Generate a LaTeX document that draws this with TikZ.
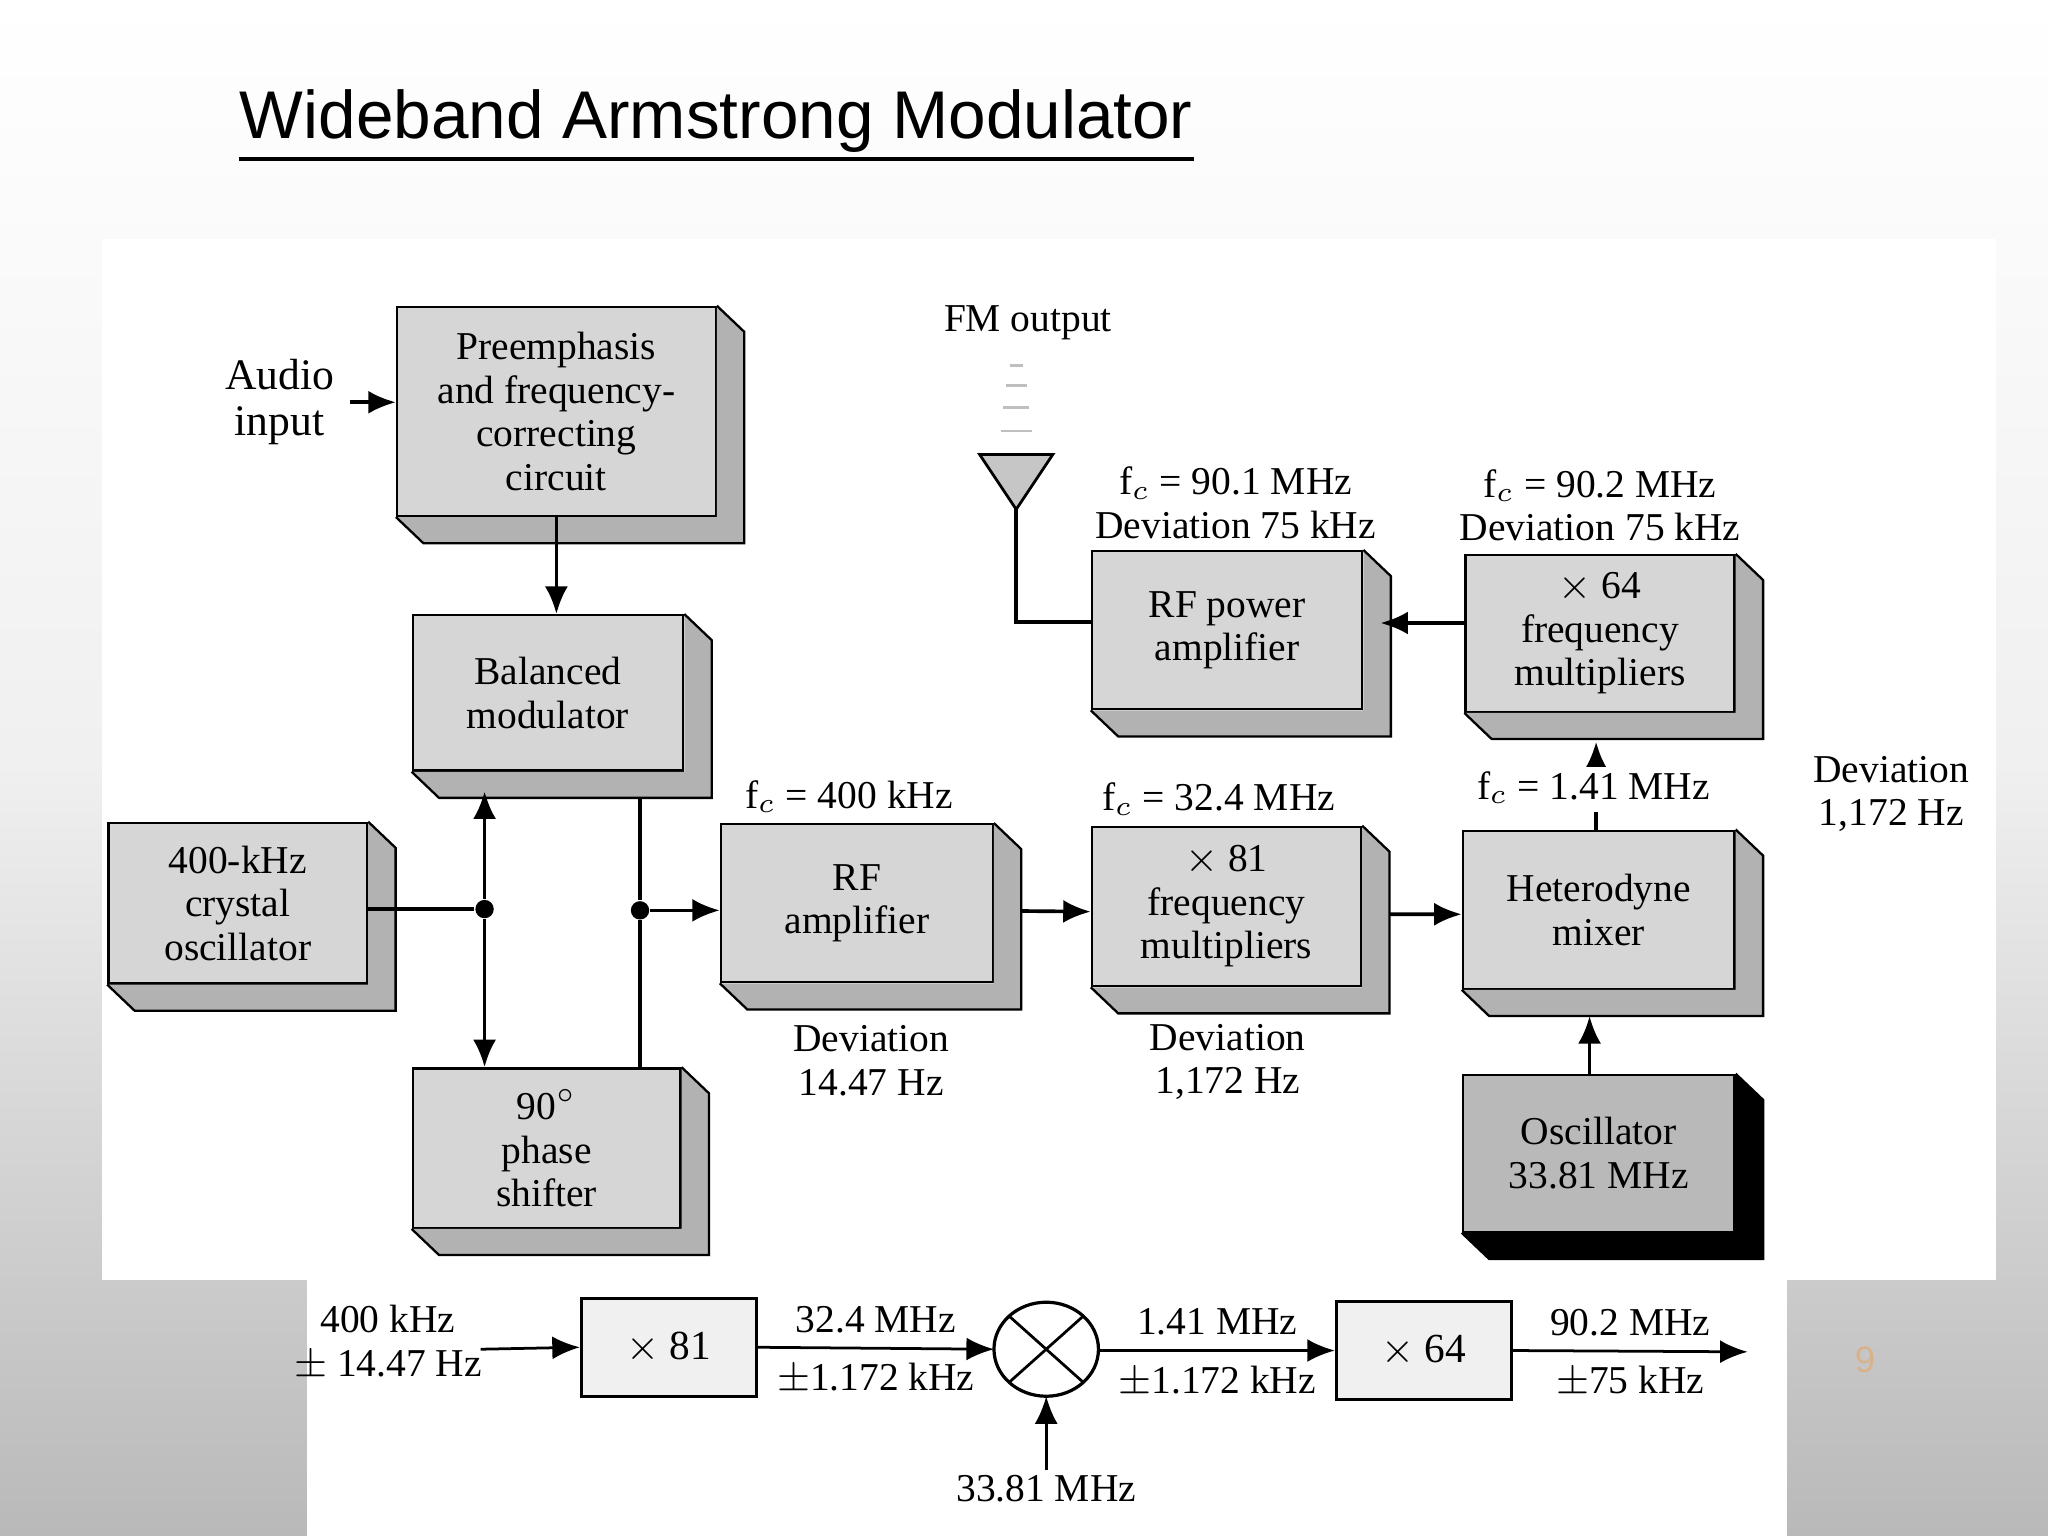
\documentclass[tikz,border=0pt]{standalone}
\usepackage{fontspec}
\setmainfont{Liberation Serif}
\newfontfamily\titlefont{Liberation Sans}
\usetikzlibrary{arrows.meta,calc}

\begin{document}
\begin{tikzpicture}[
  % --- node styles ---
  blk/.style={draw=black, fill=gray!32, line width=0.5pt, inner sep=0pt,
              minimum width=#1, align=center,
              font=\fontsize{8.6}{9.5}\selectfont},
  lbl/.style={align=center, font=\fontsize{8.6}{9.5}\selectfont, inner sep=1pt},
  sig/.style={-{Latex[length=6pt,width=5pt]}, line width=0.8pt},
  wire/.style={line width=0.8pt},
  dot/.style={circle, fill=black, minimum size=4pt, inner sep=0pt},
  cbox/.style={draw=black, fill=gray!12, line width=0.6pt,
               minimum width=1.34cm, minimum height=0.75cm,
               font=\fontsize{9}{9}\selectfont},
]
  % --- block with a 3D shadow ---
  \newcommand\shadowblk[2]{%
    \fill[#2] (#1.north east) -- ($(#1.north east)+(0.21,-0.2)$)
      -- ($(#1.south east)+(0.21,-0.2)$) -- ($(#1.south west)+(0.21,-0.2)$)
      -- (#1.south west) -- (#1.south east) -- cycle;
    \draw[line width=0.5pt] (#1.north east) -- ($(#1.north east)+(0.21,-0.2)$)
      -- ($(#1.south east)+(0.21,-0.2)$) -- ($(#1.south west)+(0.21,-0.2)$)
      -- (#1.south west);}

  % --- slide background ---
  \useasboundingbox (0,0) rectangle (15.68,-11.76);
  \shade[top color=white, bottom color=gray!55, middle color=gray!12]
    (0,0) rectangle (15.68,-11.76);
  \fill[white] (0.78,-1.83) rectangle (15.28,-9.80);
  \fill[white] (2.35,-9.80) rectangle (13.68,-11.76);

  % --- title ---
  \node[font=\titlefont\fontsize{14.7}{16}\selectfont, anchor=west, inner sep=0pt]
    (title) at (1.83,-0.93) {Wideband Armstrong Modulator};
  \draw[line width=0.8pt] ($(title.south west)+(0,-0.04)$) -- ($(title.south east)+(0,-0.04)$);

  % --- blocks ---
  \node[blk=2.44cm, minimum height=1.60cm] (pre) at (4.26,-3.15)
    {Preemphasis\\and frequency-\\correcting\\circuit};
  \node[blk=2.07cm, minimum height=1.19cm] (bal) at (4.195,-5.305)
    {Balanced\\modulator};
  \node[blk=1.98cm, minimum height=1.23cm] (xtal) at (1.82,-6.915)
    {400-kHz\\crystal\\oscillator};
  \node[blk=2.05cm, minimum height=1.22cm] (phs) at (4.185,-8.79)
    {90$^\circ$\\phase\\shifter};
  \node[blk=2.08cm, minimum height=1.21cm] (rfa) at (6.56,-6.915)
    {RF\\amplifier};
  \node[blk=2.06cm, minimum height=1.22cm] (m81) at (9.39,-6.94)
    {$\times$ 81\\frequency\\multipliers};
  \node[blk=2.08cm, minimum height=1.21cm] (mix) at (12.24,-6.965)
    {Heterodyne\\mixer};
  \node[blk=2.08cm, minimum height=1.20cm, fill=gray!55] (osc) at (12.24,-8.83)
    {Oscillator\\33.81 MHz};
  \node[blk=2.06cm, minimum height=1.20cm] (m64) at (12.25,-4.85)
    {$\times$ 64\\frequency\\multipliers};
  \node[blk=2.07cm, minimum height=1.21cm] (rfp) at (9.395,-4.825)
    {RF power\\amplifier};

  \shadowblk{pre}{gray!60}
  \shadowblk{bal}{gray!60}
  \shadowblk{xtal}{gray!60}
  \shadowblk{phs}{gray!60}
  \shadowblk{rfa}{gray!60}
  \shadowblk{m81}{gray!60}
  \shadowblk{mix}{gray!60}
  \shadowblk{osc}{black}
  \shadowblk{m64}{gray!60}
  \shadowblk{rfp}{gray!60}

  % --- junctions ---
  \node[dot] (j1) at (3.71,-6.96) {};
  \node[dot] (j2) at (4.90,-6.97) {};
  \coordinate (ant) at (7.78,-3.90);
  \coordinate (bend) at (7.78,-4.76);
  \coordinate (gapb) at (12.22,-6.22);
  \coordinate (gapt) at (12.22,-5.86);

  % --- connectors ---
  \node[lbl, font=\fontsize{9.5}{10}\selectfont] (audio) at (2.14,-3.08) {Audio\\input};
  \draw[sig] ($(audio.east)+(0.08,0)$) -- (audio.east -| pre.west);
  \draw[sig] (pre.south) -- (pre.south |- bal.north);
  \draw[wire] (xtal.east |- j1) -- (j1);
  \draw[sig] (j1) -- ($(bal.south -| j1)+(0,-0.15)$);
  \draw[sig] (j1) -- (phs.north -| j1);
  \draw[wire] ($(bal.south -| j2)+(0,-0.2)$) -- (j2);
  \draw[wire] (phs.north -| j2) -- (j2);
  \draw[sig] (j2) -- (rfa.west |- j2);
  \draw[sig] ($(rfa.east)+(0.21,-0.06)$) -- (m81.west |- 0,-6.98);
  \draw[sig] ($(m81.east)+(0.21,-0.06)$) -- (mix.west |- 0,-7.0);
  \draw[sig] (osc.north -| 12.17,0) -- ($(mix.south -| 12.17,0)+(0,-0.2)$);
  \draw[wire] (mix.north -| gapb) -- (gapb);
  \draw[sig] (gapt) -- ($(m64.south -| gapt)+(0,-0.22)$);
  \draw[sig] (m64.west |- 0,-4.77) -- ($(rfp.east |- 0,-4.77)+(0.13,0)$);
  \draw[wire] (rfp.west |- bend) -- (bend) -- (ant);

  % --- antenna ---
  \draw[fill=gray!45, line width=0.6pt] (ant) -- (7.50,-3.48) -- (8.06,-3.48) -- cycle;
  \foreach \yy/\ww in {3.30/0.12, 3.12/0.10, 2.95/0.08, 2.80/0.05}
    \draw[gray!50, line width=0.6pt] (7.78-\ww,-\yy) -- (7.78+\ww,-\yy);
  \node[lbl] (fmout) at (7.87,-2.47) {FM output};

  % --- frequency labels ---
  \node[lbl] (lrfp) at (9.46,-3.85) {f$_c$ = 90.1 MHz\\Deviation 75 kHz};
  \node[lbl] (lm64) at (12.25,-3.87) {f$_c$ = 90.2 MHz\\Deviation 75 kHz};
  \node[lbl] (lrfa) at (6.50,-6.10) {f$_c$ = 400 kHz};
  \node[lbl] (lm81) at (9.33,-6.12) {f$_c$ = 32.4 MHz};
  \node[lbl, fill=white] (lmix) at (12.20,-6.03) {f$_c$ = 1.41 MHz};
  \node[lbl] (dvmix) at (14.48,-6.08) {Deviation\\1,172 Hz};
  \node[lbl] (dvrfa) at (6.67,-8.12) {Deviation\\14.47 Hz};
  \node[lbl] (dvm81) at (9.40,-8.13) {Deviation\\1,172 Hz};

  % --- summary chain ---
  \node[lbl] (fin) at (2.97,-10.28) {400 kHz\\$\pm$ 14.47 Hz};
  \coordinate (cin) at (3.68,-10.33);
  \node[cbox] (c81) at (5.12,-10.315) {$\times$ 81};
  \draw[line width=0.7pt] (8.01,-10.33) ellipse (0.40 and 0.36);
  \coordinate (cmx) at (8.01,-10.33);
  \draw[line width=0.6pt] ($(cmx)+(-0.28,0.25)$) -- ($(cmx)+(0.28,-0.25)$);
  \draw[line width=0.6pt] ($(cmx)+(-0.28,-0.25)$) -- ($(cmx)+(0.28,0.25)$);
  \node[cbox] (c64) at (10.90,-10.34) {$\times$ 64};
  \coordinate (cout) at (13.38,-10.35);
  \node[lbl] (flo) at (8.01,-11.40) {33.81 MHz};
  \draw[sig, line width=0.6pt] (cin) -- (c81.west);
  \draw[sig, line width=0.6pt] (c81.east) -- (7.61,-10.33)
    node[midway, above=2pt, lbl] {32.4 MHz} node[midway, below=2pt, lbl] {$\pm$1.172 kHz};
  \draw[sig, line width=0.6pt] (8.42,-10.34) -- (c64.west)
    node[midway, above=2pt, lbl] {1.41 MHz} node[midway, below=2pt, lbl] {$\pm$1.172 kHz};
  \draw[sig, line width=0.6pt] (c64.east) -- (cout)
    node[midway, above=2pt, lbl] {90.2 MHz} node[midway, below=2pt, lbl] {$\pm$75 kHz};
  \draw[sig, line width=0.6pt] (flo.north) -- (8.01,-10.69);

  % --- page number ---
  \node[font=\titlefont\fontsize{8}{8}\selectfont, text=brown!60] (pg) at (14.28,-10.41) {9};
\end{tikzpicture}
\end{document}
